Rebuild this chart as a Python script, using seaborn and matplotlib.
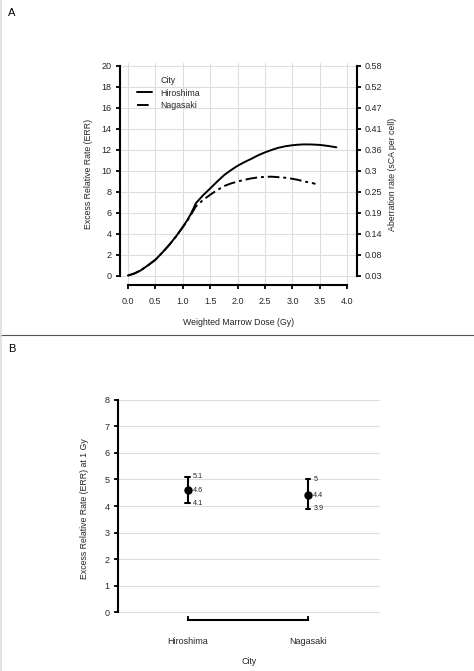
import matplotlib
matplotlib.use("Agg")
import matplotlib.pyplot as plt
from matplotlib.lines import Line2D
import seaborn as sns
import pandas as pd

# panel A: dose-response curves
hiro_dose = [0.0, 0.12, 0.23, 0.36, 0.5, 0.62, 0.75, 0.88, 1.0, 1.08, 1.15, 1.24,
             1.37, 1.5, 1.63, 1.76, 1.88, 2.0, 2.12, 2.24, 2.37, 2.5, 2.62, 2.73,
             2.87, 3.0, 3.1, 3.22, 3.35, 3.5, 3.65, 3.8]
hiro_err = [0.0, 0.2, 0.48, 0.95, 1.5, 2.15, 2.9, 3.75, 4.64, 5.25, 5.9, 6.9,
            7.65, 8.3, 8.97, 9.6, 10.05, 10.46, 10.8, 11.1, 11.45, 11.74, 11.97, 12.16,
            12.32, 12.42, 12.47, 12.5, 12.49, 12.45, 12.35, 12.22]
naga_dose = [0.0, 0.12, 0.23, 0.36, 0.5, 0.62, 0.75, 0.88, 1.0, 1.08, 1.15, 1.24,
             1.37, 1.5, 1.63, 1.76, 1.88, 2.0, 2.12, 2.24, 2.37, 2.5, 2.62, 2.73,
             2.87, 3.0, 3.1, 3.22, 3.32, 3.42]
naga_err = [0.0, 0.2, 0.48, 0.95, 1.5, 2.15, 2.9, 3.75, 4.6, 5.2, 5.8, 6.6,
            7.2, 7.7, 8.15, 8.54, 8.78, 8.96, 9.12, 9.25, 9.35, 9.41, 9.42, 9.38,
            9.32, 9.22, 9.12, 8.96, 8.86, 8.74]
right_ticks = ["0.03", "0.08", "0.14", "0.19", "0.25", "0.3", "0.36", "0.41", "0.47", "0.52", "0.58"]

# panel B: ERR at 1 Gy (lower, estimate, upper)
cities = ["Hiroshima", "Nagasaki"]
err_low = [4.1, 3.9]
err_mid = [4.6, 4.4]
err_high = [5.1, 5.0]

sns.set_theme(style="whitegrid")
plt.rcParams["font.family"] = ["Liberation Sans", "DejaVu Sans"]
txt = "#262626"
grid = "#dedede"
fs = 6.3

fig = plt.figure(figsize=(4.74, 6.71), dpi=100)

# ---------------- A ----------------
dfa = pd.DataFrame({
    "dose": hiro_dose + naga_dose,
    "err": hiro_err + naga_err,
    "City": ["Hiroshima"] * len(hiro_dose) + ["Nagasaki"] * len(naga_dose),
})
ax = fig.add_axes([0.253, 0.5753, 0.4994, 0.3307])
sns.lineplot(data=dfa, x="dose", y="err", hue="City", style="City",
             palette=["black", "black"], dashes=[(), (6, 2, 1.5, 2)],
             linewidth=1.4, ax=ax)
ax.set_xlim(-0.146, 4.17)
ax.set_ylim(-0.9, 20.25)
ax.set_xticks([0, 0.5, 1, 1.5, 2, 2.5, 3, 3.5, 4])
ax.set_xticklabels(["0.0", "0.5", "1.0", "1.5", "2.0", "2.5", "3.0", "3.5", "4.0"])
ax.set_yticks(range(0, 21, 2))
ax.set_xlabel("Weighted Marrow Dose (Gy)", fontsize=fs, color=txt, labelpad=8)
ax.set_ylabel("Excess Relative Rate (ERR)", fontsize=fs, color=txt, labelpad=6)
ax.grid(True, color=grid, linewidth=0.8)
ax.tick_params(axis="both", labelsize=6.5, colors="black", labelcolor=txt,
               direction="out", length=3, width=1.3, left=True, bottom=True, pad=3)
ax.tick_params(axis="x", pad=6)
for s in ["top", "right"]:
    ax.spines[s].set_visible(False)
for s in ["left", "bottom"]:
    ax.spines[s].set_color("black")
    ax.spines[s].set_linewidth(1.5)
ax.spines["left"].set_bounds(0, 20)
ax.spines["bottom"].set_bounds(0, 4)

leg = ax.legend(title="City", loc="upper left", bbox_to_anchor=(0.04, 0.975),
                frameon=False, fontsize=fs, title_fontsize=fs, handlelength=1.7,
                labelspacing=0.35, handletextpad=0.9)
for t in leg.get_texts():
    t.set_color(txt)
leg.get_title().set_color(txt)

ax2 = ax.twinx()
ax2.set_ylim(ax.get_ylim())
ax2.set_yticks(range(0, 21, 2))
ax2.set_yticklabels(right_ticks)
ax2.grid(False)
ax2.set_ylabel("Aberration rate (sCA per cell)", fontsize=fs, color=txt, labelpad=4)
ax2.tick_params(axis="y", labelsize=6.5, colors="black", labelcolor=txt,
                direction="out", length=3, width=1.3, right=True, pad=3)
for s in ["top", "left", "bottom"]:
    ax2.spines[s].set_visible(False)
ax2.spines["right"].set_color("black")
ax2.spines["right"].set_linewidth(1.5)
ax2.spines["right"].set_bounds(0, 20)

# ---------------- B ----------------
dfb = pd.DataFrame({
    "City": [c for c in cities for _ in range(3)],
    "err": [v for i in range(len(cities)) for v in (err_low[i], err_mid[i], err_high[i])],
})
bx = fig.add_axes([0.2483, 0.076, 0.5534, 0.3319])
sns.pointplot(data=dfb, x="City", y="err", estimator="median", errorbar=("pi", 100),
              color="black", linestyle="none", capsize=0.04, err_kws={"linewidth": 1.5},
              markersize=4, ax=bx)
bx.set_xlim(-0.583, 1.60)
bx.set_ylim(-0.3, 8.1)
bx.set_yticks(range(0, 9))
bx.set_xlabel("City", fontsize=fs, color=txt, labelpad=8)
bx.set_ylabel("Excess Relative Rate (ERR) at 1 Gy", fontsize=fs, color=txt, labelpad=11)
bx.grid(False)
bx.yaxis.grid(True, color=grid, linewidth=0.8)
bx.tick_params(axis="both", labelsize=6.5, colors="black", labelcolor=txt,
               direction="out", length=3, width=1.3, left=True, bottom=True, pad=3)
bx.tick_params(axis="x", direction="in", pad=12)
for s in ["top", "right"]:
    bx.spines[s].set_visible(False)
for s in ["left", "bottom"]:
    bx.spines[s].set_color("black")
    bx.spines[s].set_linewidth(1.5)
bx.spines["left"].set_bounds(0, 8)
bx.spines["bottom"].set_bounds(0, 1)

for i in range(len(cities)):
    for v in (err_high[i], err_mid[i], err_low[i]):
        bx.text(i + 0.045, v, f"{v:g}", fontsize=5.2, color=txt, va="center")

# panel labels and separator
fig.text(0.017, 0.988, "A", fontsize=8, color="black", va="top")
fig.text(0.017, 0.488, "B", fontsize=8, color="black", va="top")
fig.add_artist(Line2D([0, 1], [1 - 335 / 671, 1 - 335 / 671], color="#555555", linewidth=0.8))
fig.add_artist(Line2D([0.002, 0.002], [0, 1], color="#dddddd", linewidth=1.2))

fig.savefig("out.png", dpi=100, facecolor="white")
